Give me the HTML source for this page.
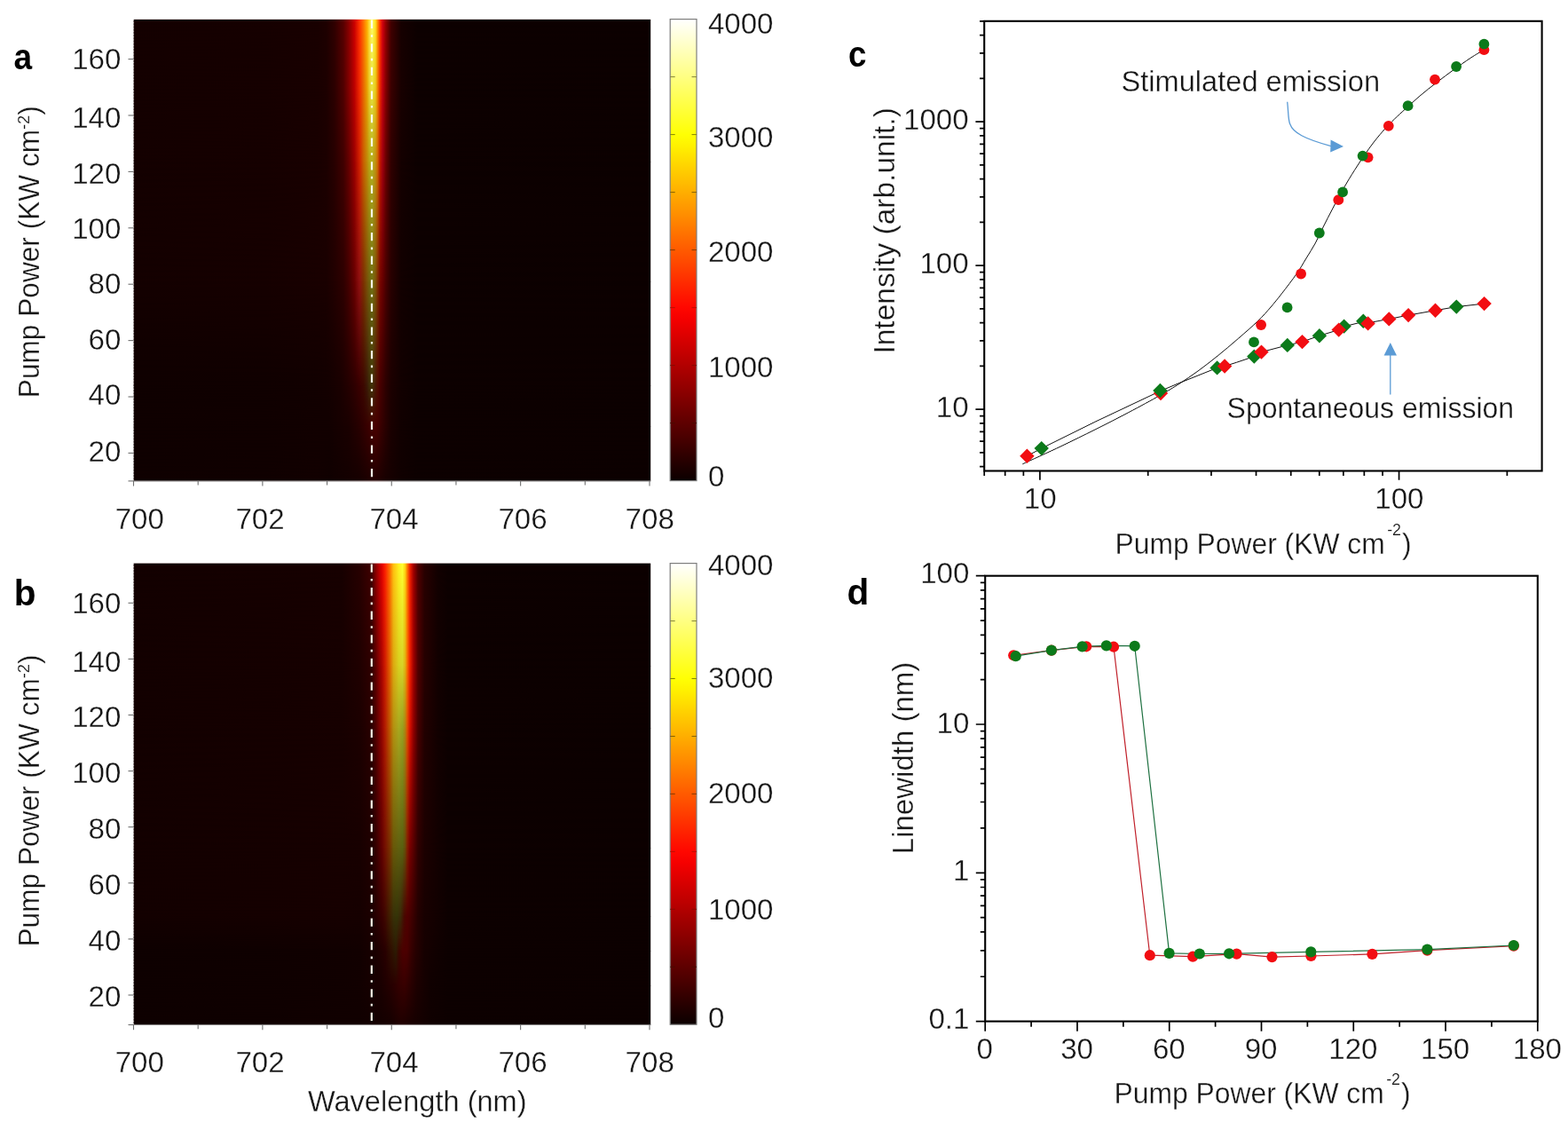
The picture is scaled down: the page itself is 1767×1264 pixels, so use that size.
<!DOCTYPE html>
<html lang="en"><head><meta charset="utf-8"><title>Figure</title>
<style>html,body{margin:0;padding:0;background:#fff}body{width:1767px;height:1264px}svg{display:block}text{font-family:"Liberation Sans",sans-serif;stroke:#fff;stroke-width:0.3px;stroke-linejoin:round}text.b{stroke:none}</style>
</head><body>
<svg width="1767" height="1264" viewBox="0 0 1767 1264">
<defs>
<linearGradient id="vg" x1="0" y1="0" x2="0" y2="1"><stop offset="0" stop-color="#000"/><stop offset="1" stop-color="#fff"/></linearGradient>
<mask id="vm" maskContentUnits="objectBoundingBox" x="0" y="0" width="1" height="1"><rect x="0" y="0" width="1" height="1" fill="url(#vg)"/></mask>
<linearGradient id="ha0" gradientUnits="userSpaceOnUse" x1="150.5" y1="0" x2="733.2" y2="0"><stop offset="0.0000" stop-color="#140000"/><stop offset="0.2566" stop-color="#160000"/><stop offset="0.3561" stop-color="#190000"/><stop offset="0.3733" stop-color="#1e0000"/><stop offset="0.3887" stop-color="#300000"/><stop offset="0.4059" stop-color="#580000"/><stop offset="0.4162" stop-color="#880000"/><stop offset="0.4271" stop-color="#cc0000"/><stop offset="0.4368" stop-color="#ff3000"/><stop offset="0.4447" stop-color="#ff7000"/><stop offset="0.4515" stop-color="#ffb000"/><stop offset="0.4563" stop-color="#ffe040"/><stop offset="0.4613" stop-color="#ffff66"/><stop offset="0.4680" stop-color="#ffe020"/><stop offset="0.4719" stop-color="#ff9000"/><stop offset="0.4767" stop-color="#ff3000"/><stop offset="0.4816" stop-color="#d00010"/><stop offset="0.4882" stop-color="#900000"/><stop offset="0.4980" stop-color="#400000"/><stop offset="0.5174" stop-color="#160000"/><stop offset="0.5483" stop-color="#0d0000"/><stop offset="1.0000" stop-color="#0c0000"/></linearGradient>
<linearGradient id="ha1" gradientUnits="userSpaceOnUse" x1="150.5" y1="0" x2="733.2" y2="0"><stop offset="0.0000" stop-color="#140000"/><stop offset="0.2566" stop-color="#160000"/><stop offset="0.3561" stop-color="#190000"/><stop offset="0.3733" stop-color="#1d0000"/><stop offset="0.3887" stop-color="#2c0000"/><stop offset="0.4059" stop-color="#500000"/><stop offset="0.4162" stop-color="#800000"/><stop offset="0.4271" stop-color="#bc0000"/><stop offset="0.4368" stop-color="#f02800"/><stop offset="0.4447" stop-color="#e86800"/><stop offset="0.4515" stop-color="#e8a000"/><stop offset="0.4563" stop-color="#e8d030"/><stop offset="0.4613" stop-color="#e8e440"/><stop offset="0.4680" stop-color="#e8c818"/><stop offset="0.4719" stop-color="#f08000"/><stop offset="0.4767" stop-color="#e82800"/><stop offset="0.4816" stop-color="#c00010"/><stop offset="0.4882" stop-color="#800000"/><stop offset="0.4980" stop-color="#3a0000"/><stop offset="0.5174" stop-color="#180000"/><stop offset="0.5483" stop-color="#0d0000"/><stop offset="1.0000" stop-color="#0c0000"/></linearGradient>
<linearGradient id="ha2" gradientUnits="userSpaceOnUse" x1="150.5" y1="0" x2="733.2" y2="0"><stop offset="0.0000" stop-color="#140000"/><stop offset="0.2566" stop-color="#160000"/><stop offset="0.3561" stop-color="#190000"/><stop offset="0.3733" stop-color="#1c0000"/><stop offset="0.3887" stop-color="#280000"/><stop offset="0.4059" stop-color="#400000"/><stop offset="0.4162" stop-color="#640000"/><stop offset="0.4271" stop-color="#9c0000"/><stop offset="0.4368" stop-color="#d02000"/><stop offset="0.4447" stop-color="#c86000"/><stop offset="0.4515" stop-color="#c08808"/><stop offset="0.4563" stop-color="#b8a818"/><stop offset="0.4613" stop-color="#b4b020"/><stop offset="0.4680" stop-color="#c09010"/><stop offset="0.4719" stop-color="#d06800"/><stop offset="0.4767" stop-color="#c01800"/><stop offset="0.4816" stop-color="#a00010"/><stop offset="0.4882" stop-color="#680000"/><stop offset="0.4980" stop-color="#300000"/><stop offset="0.5174" stop-color="#140000"/><stop offset="0.5483" stop-color="#0d0000"/><stop offset="1.0000" stop-color="#0c0000"/></linearGradient>
<linearGradient id="ha3" gradientUnits="userSpaceOnUse" x1="150.5" y1="0" x2="733.2" y2="0"><stop offset="0.0000" stop-color="#140000"/><stop offset="0.2566" stop-color="#160000"/><stop offset="0.3561" stop-color="#190000"/><stop offset="0.3733" stop-color="#1a0000"/><stop offset="0.3887" stop-color="#220000"/><stop offset="0.4059" stop-color="#2e0000"/><stop offset="0.4162" stop-color="#440000"/><stop offset="0.4271" stop-color="#680000"/><stop offset="0.4368" stop-color="#901010"/><stop offset="0.4447" stop-color="#7c3000"/><stop offset="0.4515" stop-color="#785008"/><stop offset="0.4563" stop-color="#706410"/><stop offset="0.4613" stop-color="#727212"/><stop offset="0.4680" stop-color="#7c5408"/><stop offset="0.4719" stop-color="#803000"/><stop offset="0.4767" stop-color="#780800"/><stop offset="0.4816" stop-color="#680000"/><stop offset="0.4882" stop-color="#480000"/><stop offset="0.4980" stop-color="#280000"/><stop offset="0.5174" stop-color="#120000"/><stop offset="0.5483" stop-color="#0d0000"/><stop offset="1.0000" stop-color="#0c0000"/></linearGradient>
<linearGradient id="ha4" gradientUnits="userSpaceOnUse" x1="150.5" y1="0" x2="733.2" y2="0"><stop offset="0.0000" stop-color="#0f0000"/><stop offset="0.2566" stop-color="#100000"/><stop offset="0.3561" stop-color="#120000"/><stop offset="0.3784" stop-color="#140000"/><stop offset="0.4007" stop-color="#1a0000"/><stop offset="0.4155" stop-color="#240000"/><stop offset="0.4271" stop-color="#2e0000"/><stop offset="0.4368" stop-color="#3a0000"/><stop offset="0.4447" stop-color="#3c0800"/><stop offset="0.4515" stop-color="#3a1806"/><stop offset="0.4563" stop-color="#3e2c08"/><stop offset="0.4613" stop-color="#423408"/><stop offset="0.4680" stop-color="#481806"/><stop offset="0.4719" stop-color="#500c00"/><stop offset="0.4767" stop-color="#480000"/><stop offset="0.4816" stop-color="#3c0000"/><stop offset="0.4882" stop-color="#2c0000"/><stop offset="0.4980" stop-color="#1c0000"/><stop offset="0.5174" stop-color="#120000"/><stop offset="0.5483" stop-color="#0d0000"/><stop offset="1.0000" stop-color="#0c0000"/></linearGradient>
<linearGradient id="ha5" gradientUnits="userSpaceOnUse" x1="150.5" y1="0" x2="733.2" y2="0"><stop offset="0.0000" stop-color="#0f0000"/><stop offset="0.2566" stop-color="#100000"/><stop offset="0.3561" stop-color="#120000"/><stop offset="0.3784" stop-color="#120000"/><stop offset="0.4155" stop-color="#1a0000"/><stop offset="0.4368" stop-color="#280000"/><stop offset="0.4515" stop-color="#380000"/><stop offset="0.4613" stop-color="#440000"/><stop offset="0.4694" stop-color="#480000"/><stop offset="0.4767" stop-color="#3c0000"/><stop offset="0.4882" stop-color="#280000"/><stop offset="0.4980" stop-color="#1a0000"/><stop offset="0.5174" stop-color="#110000"/><stop offset="0.5483" stop-color="#0d0000"/><stop offset="1.0000" stop-color="#0c0000"/></linearGradient>
<linearGradient id="ha6" gradientUnits="userSpaceOnUse" x1="150.5" y1="0" x2="733.2" y2="0"><stop offset="0.0000" stop-color="#0f0000"/><stop offset="0.2566" stop-color="#100000"/><stop offset="0.3561" stop-color="#120000"/><stop offset="0.3784" stop-color="#100000"/><stop offset="0.4368" stop-color="#160000"/><stop offset="0.4613" stop-color="#200000"/><stop offset="0.4694" stop-color="#220000"/><stop offset="0.4882" stop-color="#180000"/><stop offset="0.5174" stop-color="#100000"/><stop offset="0.5483" stop-color="#0d0000"/><stop offset="1.0000" stop-color="#0c0000"/></linearGradient>
<linearGradient id="hb0" gradientUnits="userSpaceOnUse" x1="150.5" y1="0" x2="733.2" y2="0"><stop offset="0.0000" stop-color="#130000"/><stop offset="0.2566" stop-color="#150000"/><stop offset="0.4024" stop-color="#170000"/><stop offset="0.4385" stop-color="#280000"/><stop offset="0.4604" stop-color="#400000"/><stop offset="0.4690" stop-color="#900000"/><stop offset="0.4797" stop-color="#e00000"/><stop offset="0.4865" stop-color="#ff2000"/><stop offset="0.4955" stop-color="#ff7000"/><stop offset="0.5025" stop-color="#ffc010"/><stop offset="0.5131" stop-color="#fff020"/><stop offset="0.5202" stop-color="#ffff30"/><stop offset="0.5255" stop-color="#ffd010"/><stop offset="0.5291" stop-color="#ff8000"/><stop offset="0.5344" stop-color="#f02000"/><stop offset="0.5414" stop-color="#a00000"/><stop offset="0.5500" stop-color="#500000"/><stop offset="0.5626" stop-color="#280000"/><stop offset="0.5890" stop-color="#120000"/><stop offset="0.6084" stop-color="#0d0000"/><stop offset="1.0000" stop-color="#0c0000"/></linearGradient>
<linearGradient id="hb1" gradientUnits="userSpaceOnUse" x1="150.5" y1="0" x2="733.2" y2="0"><stop offset="0.0000" stop-color="#130000"/><stop offset="0.2566" stop-color="#150000"/><stop offset="0.4024" stop-color="#170000"/><stop offset="0.4385" stop-color="#200000"/><stop offset="0.4604" stop-color="#300000"/><stop offset="0.4690" stop-color="#600000"/><stop offset="0.4797" stop-color="#a80400"/><stop offset="0.4865" stop-color="#d01c00"/><stop offset="0.4955" stop-color="#e06000"/><stop offset="0.5025" stop-color="#dca810"/><stop offset="0.5131" stop-color="#d8d020"/><stop offset="0.5202" stop-color="#d8d428"/><stop offset="0.5255" stop-color="#e0b010"/><stop offset="0.5291" stop-color="#f87000"/><stop offset="0.5344" stop-color="#f02000"/><stop offset="0.5414" stop-color="#a00000"/><stop offset="0.5500" stop-color="#500000"/><stop offset="0.5626" stop-color="#260000"/><stop offset="0.5890" stop-color="#120000"/><stop offset="0.6084" stop-color="#0d0000"/><stop offset="1.0000" stop-color="#0c0000"/></linearGradient>
<linearGradient id="hb2" gradientUnits="userSpaceOnUse" x1="150.5" y1="0" x2="733.2" y2="0"><stop offset="0.0000" stop-color="#130000"/><stop offset="0.2566" stop-color="#150000"/><stop offset="0.4024" stop-color="#170000"/><stop offset="0.4385" stop-color="#1c0000"/><stop offset="0.4604" stop-color="#2a0000"/><stop offset="0.4690" stop-color="#520000"/><stop offset="0.4797" stop-color="#920400"/><stop offset="0.4865" stop-color="#b41c00"/><stop offset="0.4955" stop-color="#bc5800"/><stop offset="0.5025" stop-color="#b49010"/><stop offset="0.5131" stop-color="#a8a820"/><stop offset="0.5202" stop-color="#98a020"/><stop offset="0.5255" stop-color="#b08010"/><stop offset="0.5291" stop-color="#e05000"/><stop offset="0.5344" stop-color="#d81000"/><stop offset="0.5414" stop-color="#900000"/><stop offset="0.5500" stop-color="#480000"/><stop offset="0.5626" stop-color="#220000"/><stop offset="0.5890" stop-color="#120000"/><stop offset="0.6084" stop-color="#0d0000"/><stop offset="1.0000" stop-color="#0c0000"/></linearGradient>
<linearGradient id="hb3" gradientUnits="userSpaceOnUse" x1="150.5" y1="0" x2="733.2" y2="0"><stop offset="0.0000" stop-color="#130000"/><stop offset="0.2566" stop-color="#150000"/><stop offset="0.4024" stop-color="#170000"/><stop offset="0.4385" stop-color="#180000"/><stop offset="0.4604" stop-color="#200000"/><stop offset="0.4690" stop-color="#360000"/><stop offset="0.4797" stop-color="#600000"/><stop offset="0.4865" stop-color="#741000"/><stop offset="0.4955" stop-color="#783000"/><stop offset="0.5025" stop-color="#685808"/><stop offset="0.5131" stop-color="#606010"/><stop offset="0.5202" stop-color="#586010"/><stop offset="0.5255" stop-color="#684808"/><stop offset="0.5291" stop-color="#802000"/><stop offset="0.5344" stop-color="#780000"/><stop offset="0.5414" stop-color="#580000"/><stop offset="0.5500" stop-color="#300000"/><stop offset="0.5626" stop-color="#1c0000"/><stop offset="0.5890" stop-color="#120000"/><stop offset="0.6084" stop-color="#0d0000"/><stop offset="1.0000" stop-color="#0c0000"/></linearGradient>
<linearGradient id="hb4" gradientUnits="userSpaceOnUse" x1="150.5" y1="0" x2="733.2" y2="0"><stop offset="0.0000" stop-color="#130000"/><stop offset="0.2566" stop-color="#150000"/><stop offset="0.4024" stop-color="#170000"/><stop offset="0.4385" stop-color="#160000"/><stop offset="0.4604" stop-color="#1c0000"/><stop offset="0.4690" stop-color="#280000"/><stop offset="0.4797" stop-color="#380000"/><stop offset="0.4865" stop-color="#400800"/><stop offset="0.4955" stop-color="#402000"/><stop offset="0.5025" stop-color="#383008"/><stop offset="0.5097" stop-color="#343408"/><stop offset="0.5167" stop-color="#3a2808"/><stop offset="0.5238" stop-color="#480800"/><stop offset="0.5291" stop-color="#500000"/><stop offset="0.5344" stop-color="#480000"/><stop offset="0.5414" stop-color="#380000"/><stop offset="0.5500" stop-color="#240000"/><stop offset="0.5626" stop-color="#180000"/><stop offset="0.5890" stop-color="#120000"/><stop offset="0.6084" stop-color="#0d0000"/><stop offset="1.0000" stop-color="#0c0000"/></linearGradient>
<linearGradient id="hb5" gradientUnits="userSpaceOnUse" x1="150.5" y1="0" x2="733.2" y2="0"><stop offset="0.0000" stop-color="#0e0000"/><stop offset="0.2566" stop-color="#0f0000"/><stop offset="0.4024" stop-color="#110000"/><stop offset="0.4385" stop-color="#120000"/><stop offset="0.4690" stop-color="#1a0000"/><stop offset="0.4865" stop-color="#280000"/><stop offset="0.4985" stop-color="#301000"/><stop offset="0.5071" stop-color="#2c1c04"/><stop offset="0.5131" stop-color="#3c0800"/><stop offset="0.5209" stop-color="#4c0000"/><stop offset="0.5291" stop-color="#4a0000"/><stop offset="0.5363" stop-color="#380000"/><stop offset="0.5449" stop-color="#280000"/><stop offset="0.5626" stop-color="#160000"/><stop offset="0.5890" stop-color="#100000"/><stop offset="0.6084" stop-color="#0d0000"/><stop offset="1.0000" stop-color="#0c0000"/></linearGradient>
<linearGradient id="hb6" gradientUnits="userSpaceOnUse" x1="150.5" y1="0" x2="733.2" y2="0"><stop offset="0.0000" stop-color="#0e0000"/><stop offset="0.2566" stop-color="#0f0000"/><stop offset="0.4024" stop-color="#110000"/><stop offset="0.4385" stop-color="#120000"/><stop offset="0.4797" stop-color="#1a0000"/><stop offset="0.5003" stop-color="#280000"/><stop offset="0.5140" stop-color="#340000"/><stop offset="0.5243" stop-color="#380000"/><stop offset="0.5346" stop-color="#2c0000"/><stop offset="0.5483" stop-color="#1c0000"/><stop offset="0.5741" stop-color="#100000"/><stop offset="0.6084" stop-color="#0d0000"/><stop offset="1.0000" stop-color="#0c0000"/></linearGradient>
<linearGradient id="hb7" gradientUnits="userSpaceOnUse" x1="150.5" y1="0" x2="733.2" y2="0"><stop offset="0.0000" stop-color="#0e0000"/><stop offset="0.2566" stop-color="#0f0000"/><stop offset="0.4024" stop-color="#110000"/><stop offset="0.4385" stop-color="#110000"/><stop offset="0.4968" stop-color="#160000"/><stop offset="0.5174" stop-color="#200000"/><stop offset="0.5397" stop-color="#180000"/><stop offset="0.5741" stop-color="#100000"/><stop offset="0.6084" stop-color="#0d0000"/><stop offset="1.0000" stop-color="#0c0000"/></linearGradient>
<linearGradient id="cb" x1="0" y1="1" x2="0" y2="0"><stop offset="0.0000" stop-color="#0b0000"/><stop offset="0.0250" stop-color="#1b0000"/><stop offset="0.0500" stop-color="#2c0000"/><stop offset="0.0750" stop-color="#3d0000"/><stop offset="0.1000" stop-color="#4e0000"/><stop offset="0.1250" stop-color="#5e0000"/><stop offset="0.1500" stop-color="#6f0000"/><stop offset="0.1750" stop-color="#800000"/><stop offset="0.2000" stop-color="#910000"/><stop offset="0.2250" stop-color="#a10000"/><stop offset="0.2500" stop-color="#b20000"/><stop offset="0.2750" stop-color="#c30000"/><stop offset="0.3000" stop-color="#d30000"/><stop offset="0.3250" stop-color="#e40000"/><stop offset="0.3500" stop-color="#f50000"/><stop offset="0.3750" stop-color="#ff0700"/><stop offset="0.4000" stop-color="#ff1700"/><stop offset="0.4250" stop-color="#ff2800"/><stop offset="0.4500" stop-color="#ff3900"/><stop offset="0.4750" stop-color="#ff4a00"/><stop offset="0.5000" stop-color="#ff5a00"/><stop offset="0.5250" stop-color="#ff6b00"/><stop offset="0.5500" stop-color="#ff7c00"/><stop offset="0.5750" stop-color="#ff8d00"/><stop offset="0.6000" stop-color="#ff9d00"/><stop offset="0.6250" stop-color="#ffae00"/><stop offset="0.6500" stop-color="#ffbf00"/><stop offset="0.6750" stop-color="#ffcf00"/><stop offset="0.7000" stop-color="#ffe000"/><stop offset="0.7250" stop-color="#fff100"/><stop offset="0.7500" stop-color="#ffff04"/><stop offset="0.7750" stop-color="#ffff1d"/><stop offset="0.8000" stop-color="#ffff36"/><stop offset="0.8250" stop-color="#ffff4f"/><stop offset="0.8500" stop-color="#ffff68"/><stop offset="0.8750" stop-color="#ffff82"/><stop offset="0.9000" stop-color="#ffff9b"/><stop offset="0.9250" stop-color="#ffffb4"/><stop offset="0.9500" stop-color="#ffffcd"/><stop offset="0.9750" stop-color="#ffffe6"/><stop offset="1.0000" stop-color="#ffffff"/></linearGradient>
</defs>
<rect width="1767" height="1264" fill="#fff"/>
<g>
<rect x="150.5" y="21.9" width="582.7" height="78.7" fill="url(#ha0)"/>
<rect x="150.5" y="21.9" width="582.7" height="78.1" fill="url(#ha1)" mask="url(#vm)"/>
<rect x="150.5" y="100" width="582.7" height="82.6" fill="url(#ha1)"/>
<rect x="150.5" y="100" width="582.7" height="82" fill="url(#ha2)" mask="url(#vm)"/>
<rect x="150.5" y="182" width="582.7" height="135.6" fill="url(#ha2)"/>
<rect x="150.5" y="182" width="582.7" height="135" fill="url(#ha3)" mask="url(#vm)"/>
<rect x="150.5" y="317" width="582.7" height="117.6" fill="url(#ha3)"/>
<rect x="150.5" y="317" width="582.7" height="117" fill="url(#ha4)" mask="url(#vm)"/>
<rect x="150.5" y="434" width="582.7" height="46.6" fill="url(#ha4)"/>
<rect x="150.5" y="434" width="582.7" height="46" fill="url(#ha5)" mask="url(#vm)"/>
<rect x="150.5" y="480" width="582.7" height="62.2" fill="url(#ha5)"/>
<rect x="150.5" y="480" width="582.7" height="61.6" fill="url(#ha6)" mask="url(#vm)"/>
</g>
<g>
<rect x="150.5" y="634.6" width="582.7" height="116" fill="url(#hb0)"/>
<rect x="150.5" y="634.6" width="582.7" height="115.4" fill="url(#hb1)" mask="url(#vm)"/>
<rect x="150.5" y="750" width="582.7" height="70.6" fill="url(#hb1)"/>
<rect x="150.5" y="750" width="582.7" height="70" fill="url(#hb2)" mask="url(#vm)"/>
<rect x="150.5" y="820" width="582.7" height="135.6" fill="url(#hb2)"/>
<rect x="150.5" y="820" width="582.7" height="135" fill="url(#hb3)" mask="url(#vm)"/>
<rect x="150.5" y="955" width="582.7" height="77.6" fill="url(#hb3)"/>
<rect x="150.5" y="955" width="582.7" height="77" fill="url(#hb4)" mask="url(#vm)"/>
<rect x="150.5" y="1032" width="582.7" height="39.6" fill="url(#hb4)"/>
<rect x="150.5" y="1032" width="582.7" height="39" fill="url(#hb5)" mask="url(#vm)"/>
<rect x="150.5" y="1071" width="582.7" height="39.6" fill="url(#hb5)"/>
<rect x="150.5" y="1071" width="582.7" height="39" fill="url(#hb6)" mask="url(#vm)"/>
<rect x="150.5" y="1110" width="582.7" height="44.8" fill="url(#hb6)"/>
<rect x="150.5" y="1110" width="582.7" height="44.2" fill="url(#hb7)" mask="url(#vm)"/>
</g>
<line x1="150.6" y1="21.9" x2="150.6" y2="541.6" stroke="#fff" stroke-opacity="0.55" stroke-width="1" stroke-dasharray="1.2 2"/>
<line x1="150.6" y1="634.6" x2="150.6" y2="1154.2" stroke="#fff" stroke-opacity="0.55" stroke-width="1" stroke-dasharray="1.2 2"/>
<line x1="419" y1="22.6" x2="419" y2="541" stroke="#fffef2" stroke-opacity="0.95" stroke-width="2.2" stroke-dasharray="9.3 7.3 2.6 7.4"/>
<line x1="418.8" y1="635.4" x2="418.8" y2="1153.6" stroke="#fffdf0" stroke-opacity="0.95" stroke-width="2.2" stroke-dasharray="9.3 7.3 2.6 7.4"/>
<line x1="150" y1="541.8" x2="733.7" y2="541.8" stroke="#9a9a9a" stroke-width="0.8"/>
<line x1="150.5" y1="541.6" x2="150.5" y2="547.6" stroke="#707070" stroke-width="1.1"/>
<line x1="223.188" y1="541.6" x2="223.188" y2="546.6" stroke="#707070" stroke-width="1.1"/>
<line x1="295.875" y1="541.6" x2="295.875" y2="547.6" stroke="#707070" stroke-width="1.1"/>
<line x1="368.562" y1="541.6" x2="368.562" y2="546.6" stroke="#707070" stroke-width="1.1"/>
<line x1="441.25" y1="541.6" x2="441.25" y2="547.6" stroke="#707070" stroke-width="1.1"/>
<line x1="513.938" y1="541.6" x2="513.938" y2="546.6" stroke="#707070" stroke-width="1.1"/>
<line x1="586.625" y1="541.6" x2="586.625" y2="547.6" stroke="#707070" stroke-width="1.1"/>
<line x1="659.312" y1="541.6" x2="659.312" y2="546.6" stroke="#707070" stroke-width="1.1"/>
<line x1="732" y1="541.6" x2="732" y2="547.6" stroke="#707070" stroke-width="1.1"/>
<line x1="144.5" y1="510.4" x2="150.5" y2="510.4" stroke="#707070" stroke-width="1.1"/>
<text x="136.4" y="519.5" font-size="33.6" text-anchor="end" fill="#161616" textLength="36.8" lengthAdjust="spacingAndGlyphs">20</text>
<line x1="144.5" y1="447" x2="150.5" y2="447" stroke="#707070" stroke-width="1.1"/>
<text x="136.4" y="456.3" font-size="33.6" text-anchor="end" fill="#161616" textLength="36.8" lengthAdjust="spacingAndGlyphs">40</text>
<line x1="144.5" y1="383.6" x2="150.5" y2="383.6" stroke="#707070" stroke-width="1.1"/>
<text x="136.4" y="394.3" font-size="33.6" text-anchor="end" fill="#161616" textLength="36.8" lengthAdjust="spacingAndGlyphs">60</text>
<line x1="144.5" y1="320.2" x2="150.5" y2="320.2" stroke="#707070" stroke-width="1.1"/>
<text x="136.4" y="330.6" font-size="33.6" text-anchor="end" fill="#161616" textLength="36.8" lengthAdjust="spacingAndGlyphs">80</text>
<line x1="144.5" y1="256.8" x2="150.5" y2="256.8" stroke="#707070" stroke-width="1.1"/>
<text x="136.4" y="268.9" font-size="33.6" text-anchor="end" fill="#161616" textLength="55.2" lengthAdjust="spacingAndGlyphs">100</text>
<line x1="144.5" y1="193.4" x2="150.5" y2="193.4" stroke="#707070" stroke-width="1.1"/>
<text x="136.4" y="207.3" font-size="33.6" text-anchor="end" fill="#161616" textLength="55.2" lengthAdjust="spacingAndGlyphs">120</text>
<line x1="144.5" y1="130" x2="150.5" y2="130" stroke="#707070" stroke-width="1.1"/>
<text x="136.4" y="143.5" font-size="33.6" text-anchor="end" fill="#161616" textLength="55.2" lengthAdjust="spacingAndGlyphs">140</text>
<line x1="144.5" y1="66.6" x2="150.5" y2="66.6" stroke="#707070" stroke-width="1.1"/>
<text x="136.4" y="78.2" font-size="33.6" text-anchor="end" fill="#161616" textLength="55.2" lengthAdjust="spacingAndGlyphs">160</text>
<line x1="144.5" y1="541.9" x2="150.5" y2="541.9" stroke="#707070" stroke-width="1.1"/>
<text x="157.3" y="596" font-size="33.6" text-anchor="middle" fill="#161616" textLength="55.2" lengthAdjust="spacingAndGlyphs">700</text>
<text x="293" y="596" font-size="33.6" text-anchor="middle" fill="#161616" textLength="55.2" lengthAdjust="spacingAndGlyphs">702</text>
<text x="444" y="596" font-size="33.6" text-anchor="middle" fill="#161616" textLength="55.2" lengthAdjust="spacingAndGlyphs">704</text>
<text x="589" y="596" font-size="33.6" text-anchor="middle" fill="#161616" textLength="55.2" lengthAdjust="spacingAndGlyphs">706</text>
<text x="732.2" y="596" font-size="33.6" text-anchor="middle" fill="#161616" textLength="55.2" lengthAdjust="spacingAndGlyphs">708</text>
<line x1="150" y1="1154.4" x2="733.7" y2="1154.4" stroke="#9a9a9a" stroke-width="0.8"/>
<line x1="150.5" y1="1154.2" x2="150.5" y2="1160.2" stroke="#707070" stroke-width="1.1"/>
<line x1="223.188" y1="1154.2" x2="223.188" y2="1159.2" stroke="#707070" stroke-width="1.1"/>
<line x1="295.875" y1="1154.2" x2="295.875" y2="1160.2" stroke="#707070" stroke-width="1.1"/>
<line x1="368.562" y1="1154.2" x2="368.562" y2="1159.2" stroke="#707070" stroke-width="1.1"/>
<line x1="441.25" y1="1154.2" x2="441.25" y2="1160.2" stroke="#707070" stroke-width="1.1"/>
<line x1="513.938" y1="1154.2" x2="513.938" y2="1159.2" stroke="#707070" stroke-width="1.1"/>
<line x1="586.625" y1="1154.2" x2="586.625" y2="1160.2" stroke="#707070" stroke-width="1.1"/>
<line x1="659.312" y1="1154.2" x2="659.312" y2="1159.2" stroke="#707070" stroke-width="1.1"/>
<line x1="732" y1="1154.2" x2="732" y2="1160.2" stroke="#707070" stroke-width="1.1"/>
<line x1="144.5" y1="1121" x2="150.5" y2="1121" stroke="#707070" stroke-width="1.1"/>
<text x="136.4" y="1134.3" font-size="33.6" text-anchor="end" fill="#161616" textLength="36.8" lengthAdjust="spacingAndGlyphs">20</text>
<line x1="144.5" y1="1057.9" x2="150.5" y2="1057.9" stroke="#707070" stroke-width="1.1"/>
<text x="136.4" y="1070.8" font-size="33.6" text-anchor="end" fill="#161616" textLength="36.8" lengthAdjust="spacingAndGlyphs">40</text>
<line x1="144.5" y1="994.8" x2="150.5" y2="994.8" stroke="#707070" stroke-width="1.1"/>
<text x="136.4" y="1007.7" font-size="33.6" text-anchor="end" fill="#161616" textLength="36.8" lengthAdjust="spacingAndGlyphs">60</text>
<line x1="144.5" y1="931.7" x2="150.5" y2="931.7" stroke="#707070" stroke-width="1.1"/>
<text x="136.4" y="944.6" font-size="33.6" text-anchor="end" fill="#161616" textLength="36.8" lengthAdjust="spacingAndGlyphs">80</text>
<line x1="144.5" y1="868.6" x2="150.5" y2="868.6" stroke="#707070" stroke-width="1.1"/>
<text x="136.4" y="881.5" font-size="33.6" text-anchor="end" fill="#161616" textLength="55.2" lengthAdjust="spacingAndGlyphs">100</text>
<line x1="144.5" y1="805.5" x2="150.5" y2="805.5" stroke="#707070" stroke-width="1.1"/>
<text x="136.4" y="819.4" font-size="33.6" text-anchor="end" fill="#161616" textLength="55.2" lengthAdjust="spacingAndGlyphs">120</text>
<line x1="144.5" y1="742.4" x2="150.5" y2="742.4" stroke="#707070" stroke-width="1.1"/>
<text x="136.4" y="757.3" font-size="33.6" text-anchor="end" fill="#161616" textLength="55.2" lengthAdjust="spacingAndGlyphs">140</text>
<line x1="144.5" y1="679.3" x2="150.5" y2="679.3" stroke="#707070" stroke-width="1.1"/>
<text x="136.4" y="691.2" font-size="33.6" text-anchor="end" fill="#161616" textLength="55.2" lengthAdjust="spacingAndGlyphs">160</text>
<line x1="144.5" y1="1154.5" x2="150.5" y2="1154.5" stroke="#707070" stroke-width="1.1"/>
<text x="157.3" y="1207.7" font-size="33.6" text-anchor="middle" fill="#161616" textLength="55.2" lengthAdjust="spacingAndGlyphs">700</text>
<text x="293" y="1207.7" font-size="33.6" text-anchor="middle" fill="#161616" textLength="55.2" lengthAdjust="spacingAndGlyphs">702</text>
<text x="444" y="1207.7" font-size="33.6" text-anchor="middle" fill="#161616" textLength="55.2" lengthAdjust="spacingAndGlyphs">704</text>
<text x="589" y="1207.7" font-size="33.6" text-anchor="middle" fill="#161616" textLength="55.2" lengthAdjust="spacingAndGlyphs">706</text>
<text x="732.2" y="1207.7" font-size="33.6" text-anchor="middle" fill="#161616" textLength="55.2" lengthAdjust="spacingAndGlyphs">708</text>
<rect x="755.2" y="21.6" width="29.8" height="520" fill="url(#cb)" stroke="#7d7d7d" stroke-width="1.2"/>
<line x1="755.2" y1="476.6" x2="760.7" y2="476.6" stroke="#4b0a00" stroke-width="1"/>
<line x1="779.5" y1="476.6" x2="785" y2="476.6" stroke="#4b0a00" stroke-width="1"/>
<line x1="755.2" y1="411.6" x2="760.7" y2="411.6" stroke="#860a00" stroke-width="1"/>
<line x1="779.5" y1="411.6" x2="785" y2="411.6" stroke="#860a00" stroke-width="1"/>
<line x1="755.2" y1="346.6" x2="760.7" y2="346.6" stroke="#bc0e00" stroke-width="1"/>
<line x1="779.5" y1="346.6" x2="785" y2="346.6" stroke="#bc0e00" stroke-width="1"/>
<line x1="755.2" y1="281.6" x2="760.7" y2="281.6" stroke="#843a00" stroke-width="1"/>
<line x1="779.5" y1="281.6" x2="785" y2="281.6" stroke="#843a00" stroke-width="1"/>
<line x1="755.2" y1="216.6" x2="760.7" y2="216.6" stroke="#846000" stroke-width="1"/>
<line x1="779.5" y1="216.6" x2="785" y2="216.6" stroke="#846000" stroke-width="1"/>
<line x1="755.2" y1="151.6" x2="760.7" y2="151.6" stroke="#848402" stroke-width="1"/>
<line x1="779.5" y1="151.6" x2="785" y2="151.6" stroke="#848402" stroke-width="1"/>
<line x1="755.2" y1="86.6" x2="760.7" y2="86.6" stroke="#84843a" stroke-width="1"/>
<line x1="779.5" y1="86.6" x2="785" y2="86.6" stroke="#84843a" stroke-width="1"/>
<text x="797.9" y="38" font-size="33.6" text-anchor="start" fill="#161616" textLength="73.6" lengthAdjust="spacingAndGlyphs">4000</text>
<text x="797.9" y="165.8" font-size="33.6" text-anchor="start" fill="#161616" textLength="73.6" lengthAdjust="spacingAndGlyphs">3000</text>
<text x="797.9" y="295.2" font-size="33.6" text-anchor="start" fill="#161616" textLength="73.6" lengthAdjust="spacingAndGlyphs">2000</text>
<text x="797.9" y="425.4" font-size="33.6" text-anchor="start" fill="#161616" textLength="73.6" lengthAdjust="spacingAndGlyphs">1000</text>
<text x="797.9" y="548" font-size="33.6" text-anchor="start" fill="#161616" textLength="18.4" lengthAdjust="spacingAndGlyphs">0</text>
<rect x="755.2" y="634.6" width="29.8" height="519.6" fill="url(#cb)" stroke="#7d7d7d" stroke-width="1.2"/>
<line x1="755.2" y1="1089.25" x2="760.7" y2="1089.25" stroke="#4b0a00" stroke-width="1"/>
<line x1="779.5" y1="1089.25" x2="785" y2="1089.25" stroke="#4b0a00" stroke-width="1"/>
<line x1="755.2" y1="1024.3" x2="760.7" y2="1024.3" stroke="#860a00" stroke-width="1"/>
<line x1="779.5" y1="1024.3" x2="785" y2="1024.3" stroke="#860a00" stroke-width="1"/>
<line x1="755.2" y1="959.35" x2="760.7" y2="959.35" stroke="#bc0e00" stroke-width="1"/>
<line x1="779.5" y1="959.35" x2="785" y2="959.35" stroke="#bc0e00" stroke-width="1"/>
<line x1="755.2" y1="894.4" x2="760.7" y2="894.4" stroke="#843a00" stroke-width="1"/>
<line x1="779.5" y1="894.4" x2="785" y2="894.4" stroke="#843a00" stroke-width="1"/>
<line x1="755.2" y1="829.45" x2="760.7" y2="829.45" stroke="#846000" stroke-width="1"/>
<line x1="779.5" y1="829.45" x2="785" y2="829.45" stroke="#846000" stroke-width="1"/>
<line x1="755.2" y1="764.5" x2="760.7" y2="764.5" stroke="#848402" stroke-width="1"/>
<line x1="779.5" y1="764.5" x2="785" y2="764.5" stroke="#848402" stroke-width="1"/>
<line x1="755.2" y1="699.55" x2="760.7" y2="699.55" stroke="#84843a" stroke-width="1"/>
<line x1="779.5" y1="699.55" x2="785" y2="699.55" stroke="#84843a" stroke-width="1"/>
<text x="797.9" y="648.1" font-size="33.6" text-anchor="start" fill="#161616" textLength="73.6" lengthAdjust="spacingAndGlyphs">4000</text>
<text x="797.9" y="774.8" font-size="33.6" text-anchor="start" fill="#161616" textLength="73.6" lengthAdjust="spacingAndGlyphs">3000</text>
<text x="797.9" y="905.3" font-size="33.6" text-anchor="start" fill="#161616" textLength="73.6" lengthAdjust="spacingAndGlyphs">2000</text>
<text x="797.9" y="1036.4" font-size="33.6" text-anchor="start" fill="#161616" textLength="73.6" lengthAdjust="spacingAndGlyphs">1000</text>
<text x="797.9" y="1158.4" font-size="33.6" text-anchor="start" fill="#161616" textLength="18.4" lengthAdjust="spacingAndGlyphs">0</text>
<text x="15.4" y="77.6" font-size="40.5" text-anchor="start" font-weight="bold" class="b" fill="#000" textLength="20.6" lengthAdjust="spacingAndGlyphs">a</text>
<text x="15.8" y="682" font-size="40.5" text-anchor="start" font-weight="bold" class="b" fill="#000">b</text>
<text x="956" y="75" font-size="40.5" text-anchor="start" font-weight="bold" class="b" fill="#000" textLength="20.4" lengthAdjust="spacingAndGlyphs">c</text>
<text x="954.6" y="681" font-size="40.5" text-anchor="start" font-weight="bold" class="b" fill="#000">d</text>
<text transform="translate(44.4 448.2) rotate(-90)" font-size="33" fill="#161616" textLength="329" lengthAdjust="spacingAndGlyphs">Pump Power (KW cm<tspan dy="-11" font-size="19" stroke-width="0.15">-2</tspan><tspan dy="11">)</tspan></text>
<text transform="translate(44.4 1066.5) rotate(-90)" font-size="33" fill="#161616" textLength="329" lengthAdjust="spacingAndGlyphs">Pump Power (KW cm<tspan dy="-11" font-size="19" stroke-width="0.15">-2</tspan><tspan dy="11">)</tspan></text>
<text x="347" y="1251.8" font-size="33" fill="#161616" textLength="246.5" lengthAdjust="spacingAndGlyphs">Wavelength (nm)</text>
<text transform="translate(1008.2 398.6) rotate(-90)" font-size="33" fill="#161616" textLength="277.5" lengthAdjust="spacingAndGlyphs">Intensity (arb.unit.)</text>
<text transform="translate(1028.5 962.2) rotate(-90)" font-size="33" fill="#161616" textLength="216.5" lengthAdjust="spacingAndGlyphs">Linewidth (nm)</text>
<text x="1256.6" y="624" font-size="33" fill="#161616" textLength="334" lengthAdjust="spacingAndGlyphs">Pump Power (KW cm<tspan dx="2.5" dy="-21.5" font-size="18.5" stroke-width="0.15">-2</tspan><tspan dx="1" dy="21.5">)</tspan></text>
<text x="1255.6" y="1243" font-size="33" fill="#161616" textLength="334" lengthAdjust="spacingAndGlyphs">Pump Power (KW cm<tspan dx="2.5" dy="-21.5" font-size="18.5" stroke-width="0.15">-2</tspan><tspan dx="1" dy="21.5">)</tspan></text>
<text x="1263.6" y="102.8" font-size="33" fill="#161616" textLength="291.5" lengthAdjust="spacingAndGlyphs">Stimulated emission</text>
<text x="1382.6" y="471" font-size="33" fill="#161616" textLength="323.5" lengthAdjust="spacingAndGlyphs">Spontaneous emission</text>
<rect x="1109.2" y="23.8" width="628.4" height="506.7" fill="none" stroke="#000" stroke-width="2.1"/>
<path d="M1104.00 525.67h5.2M1104.00 509.97h5.2M1104.00 497.14h5.2M1104.00 486.29h5.2M1104.00 476.90h5.2M1104.00 468.61h5.2M1099.40 461.20h9.8M1104.00 412.43h5.2M1104.00 383.91h5.2M1104.00 363.67h5.2M1104.00 347.97h5.2M1104.00 335.14h5.2M1104.00 324.29h5.2M1104.00 314.90h5.2M1104.00 306.61h5.2M1099.40 299.20h9.8M1104.00 250.43h5.2M1104.00 221.91h5.2M1104.00 201.67h5.2M1104.00 185.97h5.2M1104.00 173.14h5.2M1104.00 162.29h5.2M1104.00 152.90h5.2M1104.00 144.61h5.2M1099.40 137.20h9.8M1104.00 88.43h5.2M1104.00 59.91h5.2M1104.00 39.67h5.2M1104.00 23.97h5.2M1109.20 530.50v5.4M1132.67 530.50v5.4M1153.37 530.50v5.4M1171.89 530.50v10.2M1293.71 530.50v5.4M1364.97 530.50v5.4M1415.53 530.50v5.4M1454.74 530.50v5.4M1486.79 530.50v5.4M1513.88 530.50v5.4M1537.35 530.50v5.4M1558.05 530.50v5.4M1576.56 530.50v10.2M1698.38 530.50v5.4" stroke="#000" stroke-width="1.7" fill="none"/>
<text x="1091.6" y="146.4" font-size="33.6" text-anchor="end" fill="#161616" textLength="73.6" lengthAdjust="spacingAndGlyphs">1000</text>
<text x="1091.6" y="308.4" font-size="33.6" text-anchor="end" fill="#161616" textLength="55.2" lengthAdjust="spacingAndGlyphs">100</text>
<text x="1091.6" y="470.4" font-size="33.6" text-anchor="end" fill="#161616" textLength="36.8" lengthAdjust="spacingAndGlyphs">10</text>
<text x="1172.19" y="573" font-size="33.6" text-anchor="middle" fill="#161616" textLength="36.8" lengthAdjust="spacingAndGlyphs">10</text>
<text x="1576.86" y="573" font-size="33.6" text-anchor="middle" fill="#161616" textLength="55.2" lengthAdjust="spacingAndGlyphs">100</text>
<path d="M1152.3 522.8C1159.6 519.4 1182.4 509.1 1196.0 502.6C1209.6 496.1 1221.3 490.3 1234.0 484.0C1246.7 477.7 1259.7 471.1 1271.9 464.6C1284.1 458.2 1297.9 450.7 1307.4 445.3C1316.9 439.9 1321.8 436.9 1328.9 432.4C1336.0 427.8 1342.8 423.2 1350.0 418.0C1357.2 412.8 1364.5 407.1 1372.1 401.0C1379.6 394.9 1387.7 388.1 1395.3 381.5C1402.9 374.9 1411.6 367.4 1417.7 361.5C1423.8 355.6 1427.6 351.1 1432.0 346.0C1436.4 340.9 1439.4 337.2 1444.3 330.9C1449.2 324.6 1456.8 314.8 1461.4 308.1C1466.0 301.5 1468.5 296.7 1472.0 291.0C1475.5 285.3 1479.0 279.9 1482.3 273.9C1485.5 267.9 1488.3 261.3 1491.5 255.0C1494.7 248.7 1498.2 241.8 1501.3 235.9C1504.4 230.0 1506.8 225.2 1510.0 219.5C1513.2 213.8 1516.3 208.2 1520.2 201.8C1524.1 195.4 1529.2 187.4 1533.5 180.9C1537.8 174.4 1541.9 168.5 1546.0 163.0C1550.1 157.5 1554.3 152.5 1558.1 148.1C1561.9 143.7 1565.2 140.3 1569.0 136.5C1572.8 132.7 1575.8 130.0 1580.9 125.3C1586.1 120.6 1593.6 113.6 1599.9 108.2C1606.2 102.8 1612.6 97.9 1618.9 93.0C1625.2 88.1 1631.6 83.4 1637.9 78.8C1644.2 74.2 1651.2 69.3 1656.9 65.5C1662.7 61.7 1669.8 57.6 1672.4 56.0" fill="none" stroke="#111" stroke-width="1"/>
<polyline points="1157.4,513.7 1173.7,505.1 1233.9,475.3 1307.4,440.6 1328.9,431.5 1371.6,414.4 1380.1,412.5 1393.4,408.3 1413.3,401.6 1421.5,396.6 1450.8,388.9 1467.5,385.1 1486.9,378.2 1508.7,371.6 1514.6,367.8 1536.3,362.5 1541.6,363.8 1565.3,359.4 1587.1,355.1 1617.5,349.7 1641.3,345.6 1672.6,342.1" fill="none" stroke="#111" stroke-width="1" stroke-linejoin="round"/>
<path d="M1149.2 513.7l8.2 -8.2l8.2 8.2l-8.2 8.2z" fill="#f20d12"/>
<path d="M1165.5 505.1l8.2 -8.2l8.2 8.2l-8.2 8.2z" fill="#0c7a1a"/>
<path d="M1299.8 443.0l8.2 -8.2l8.2 8.2l-8.2 8.2z" fill="#f20d12"/>
<path d="M1299.2 440.0l8.2 -8.2l8.2 8.2l-8.2 8.2z" fill="#0c7a1a"/>
<path d="M1363.4 414.4l8.2 -8.2l8.2 8.2l-8.2 8.2z" fill="#0c7a1a"/>
<path d="M1371.9 412.5l8.2 -8.2l8.2 8.2l-8.2 8.2z" fill="#f20d12"/>
<path d="M1405.1 401.6l8.2 -8.2l8.2 8.2l-8.2 8.2z" fill="#0c7a1a"/>
<path d="M1413.3 396.6l8.2 -8.2l8.2 8.2l-8.2 8.2z" fill="#f20d12"/>
<path d="M1442.6 388.9l8.2 -8.2l8.2 8.2l-8.2 8.2z" fill="#0c7a1a"/>
<path d="M1459.3 385.1l8.2 -8.2l8.2 8.2l-8.2 8.2z" fill="#f20d12"/>
<path d="M1478.7 378.2l8.2 -8.2l8.2 8.2l-8.2 8.2z" fill="#0c7a1a"/>
<path d="M1506.4 367.6l8.2 -8.2l8.2 8.2l-8.2 8.2z" fill="#0c7a1a"/>
<path d="M1500.5 371.6l8.2 -8.2l8.2 8.2l-8.2 8.2z" fill="#f20d12"/>
<path d="M1528.1 361.7l8.2 -8.2l8.2 8.2l-8.2 8.2z" fill="#0c7a1a"/>
<path d="M1533.4 364.4l8.2 -8.2l8.2 8.2l-8.2 8.2z" fill="#f20d12"/>
<path d="M1557.1 359.4l8.2 -8.2l8.2 8.2l-8.2 8.2z" fill="#f20d12"/>
<path d="M1578.9 355.1l8.2 -8.2l8.2 8.2l-8.2 8.2z" fill="#f20d12"/>
<path d="M1609.3 349.7l8.2 -8.2l8.2 8.2l-8.2 8.2z" fill="#f20d12"/>
<path d="M1633.1 345.6l8.2 -8.2l8.2 8.2l-8.2 8.2z" fill="#0c7a1a"/>
<path d="M1664.4 342.1l8.2 -8.2l8.2 8.2l-8.2 8.2z" fill="#f20d12"/>
<circle cx="1672.4" cy="56.2" r="5.9" fill="#f20d12"/>
<circle cx="1672.4" cy="49.7" r="5.9" fill="#0c7a1a"/>
<circle cx="1641.1" cy="75.0" r="5.9" fill="#0c7a1a"/>
<circle cx="1617.0" cy="89.6" r="5.9" fill="#f20d12"/>
<circle cx="1586.6" cy="119.2" r="5.9" fill="#0c7a1a"/>
<circle cx="1564.8" cy="141.8" r="5.9" fill="#f20d12"/>
<circle cx="1541.6" cy="177.3" r="5.9" fill="#f20d12"/>
<circle cx="1535.6" cy="175.6" r="5.9" fill="#0c7a1a"/>
<circle cx="1508.3" cy="225.2" r="5.9" fill="#f20d12"/>
<circle cx="1513.1" cy="216.4" r="5.9" fill="#0c7a1a"/>
<circle cx="1486.8" cy="262.5" r="5.9" fill="#0c7a1a"/>
<circle cx="1466.1" cy="308.5" r="5.9" fill="#f20d12"/>
<circle cx="1450.6" cy="346.4" r="5.9" fill="#0c7a1a"/>
<circle cx="1421.1" cy="366.0" r="5.9" fill="#f20d12"/>
<circle cx="1413.0" cy="385.4" r="5.9" fill="#0c7a1a"/>
<path d="M1450.7 114.8C1452 126 1451.5 134 1453.6 139.5C1457 149.5 1470 156.5 1500 164.6" fill="none" stroke="#5b9bd5" stroke-width="1.3"/>
<path d="M1499.6 157.4L1514 165L1499.2 171.6z" fill="#5b9bd5"/>
<path d="M1566.8 444.5V399" fill="none" stroke="#5b9bd5" stroke-width="1.3"/>
<path d="M1566.8 386L1574 400.6H1559.6z" fill="#5b9bd5"/>
<rect x="1110.2" y="648.7" width="622.6" height="501.9" fill="none" stroke="#000" stroke-width="2.1"/>
<path d="M1099.80 1150.60h10.4M1104.80 1100.24h5.4M1104.80 1070.78h5.4M1104.80 1049.88h5.4M1104.80 1033.66h5.4M1104.80 1020.42h5.4M1104.80 1009.22h5.4M1104.80 999.51h5.4M1104.80 990.96h5.4M1099.80 983.30h10.4M1104.80 932.94h5.4M1104.80 903.48h5.4M1104.80 882.58h5.4M1104.80 866.36h5.4M1104.80 853.12h5.4M1104.80 841.92h5.4M1104.80 832.21h5.4M1104.80 823.66h5.4M1099.80 816.00h10.4M1104.80 765.64h5.4M1104.80 736.18h5.4M1104.80 715.28h5.4M1104.80 699.06h5.4M1104.80 685.82h5.4M1104.80 674.62h5.4M1104.80 664.91h5.4M1104.80 656.36h5.4M1099.80 648.70h10.4M1110.20 1150.60v11.2M1162.08 1150.60v6.2M1213.97 1150.60v11.2M1265.85 1150.60v6.2M1317.73 1150.60v11.2M1369.62 1150.60v6.2M1421.50 1150.60v11.2M1473.38 1150.60v6.2M1525.27 1150.60v11.2M1577.15 1150.60v6.2M1629.03 1150.60v11.2M1680.92 1150.60v6.2M1732.80 1150.60v11.2" stroke="#000" stroke-width="1.7" fill="none"/>
<text x="1092.4" y="657.2" font-size="33.6" text-anchor="end" fill="#161616" textLength="55.2" lengthAdjust="spacingAndGlyphs">100</text>
<text x="1092.4" y="825.7" font-size="33.6" text-anchor="end" fill="#161616" textLength="36.8" lengthAdjust="spacingAndGlyphs">10</text>
<text x="1092.4" y="992.3" font-size="33.6" text-anchor="end" fill="#161616" textLength="18.4" lengthAdjust="spacingAndGlyphs">1</text>
<text x="1092.4" y="1158.6" font-size="33.6" text-anchor="end" fill="#161616" textLength="46.0" lengthAdjust="spacingAndGlyphs">0.1</text>
<text x="1109.8" y="1192.9" font-size="33.6" text-anchor="middle" fill="#161616" textLength="18.4" lengthAdjust="spacingAndGlyphs">0</text>
<text x="1213.57" y="1192.9" font-size="33.6" text-anchor="middle" fill="#161616" textLength="36.8" lengthAdjust="spacingAndGlyphs">30</text>
<text x="1317.33" y="1192.9" font-size="33.6" text-anchor="middle" fill="#161616" textLength="36.8" lengthAdjust="spacingAndGlyphs">60</text>
<text x="1421.1" y="1192.9" font-size="33.6" text-anchor="middle" fill="#161616" textLength="36.8" lengthAdjust="spacingAndGlyphs">90</text>
<text x="1524.87" y="1192.9" font-size="33.6" text-anchor="middle" fill="#161616" textLength="55.2" lengthAdjust="spacingAndGlyphs">120</text>
<text x="1628.63" y="1192.9" font-size="33.6" text-anchor="middle" fill="#161616" textLength="55.2" lengthAdjust="spacingAndGlyphs">150</text>
<text x="1732.4" y="1192.9" font-size="33.6" text-anchor="middle" fill="#161616" textLength="55.2" lengthAdjust="spacingAndGlyphs">180</text>
<polyline points="1142.2,738.3 1184.9,732.7 1224.2,728.3 1255.0,728.7 1295.8,1076.2 1344.2,1077.7 1393.6,1074.6 1433.5,1078.1 1477.4,1077.0 1546.4,1074.9 1608.4,1070.6 1705.8,1065.6" fill="none" stroke="#c0202a" stroke-width="1.2" stroke-linejoin="round"/>
<polyline points="1144.7,739.2 1184.9,732.6 1219.6,728.4 1246.8,727.4 1278.7,727.8 1317.6,1073.9 1351.8,1074.5 1385.1,1074.3 1477.3,1072.4 1608.4,1069.6 1705.8,1065.0" fill="none" stroke="#1e7040" stroke-width="1.2" stroke-linejoin="round"/>
<circle cx="1142.2" cy="738.3" r="6.1" fill="#f20d12"/>
<circle cx="1184.9" cy="732.7" r="6.1" fill="#f20d12"/>
<circle cx="1224.2" cy="728.3" r="6.1" fill="#f20d12"/>
<circle cx="1255.0" cy="728.7" r="6.1" fill="#f20d12"/>
<circle cx="1295.8" cy="1076.2" r="6.1" fill="#f20d12"/>
<circle cx="1344.2" cy="1077.7" r="6.1" fill="#f20d12"/>
<circle cx="1393.6" cy="1074.6" r="6.1" fill="#f20d12"/>
<circle cx="1433.5" cy="1078.1" r="6.1" fill="#f20d12"/>
<circle cx="1477.4" cy="1077.0" r="6.1" fill="#f20d12"/>
<circle cx="1546.4" cy="1074.9" r="6.1" fill="#f20d12"/>
<circle cx="1608.4" cy="1070.6" r="6.1" fill="#f20d12"/>
<circle cx="1705.8" cy="1065.6" r="6.1" fill="#f20d12"/>
<circle cx="1144.7" cy="739.2" r="6.1" fill="#0c7a1a"/>
<circle cx="1184.9" cy="732.6" r="6.1" fill="#0c7a1a"/>
<circle cx="1219.6" cy="728.4" r="6.1" fill="#0c7a1a"/>
<circle cx="1246.8" cy="727.4" r="6.1" fill="#0c7a1a"/>
<circle cx="1278.7" cy="727.8" r="6.1" fill="#0c7a1a"/>
<circle cx="1317.6" cy="1073.9" r="6.1" fill="#0c7a1a"/>
<circle cx="1351.8" cy="1074.5" r="6.1" fill="#0c7a1a"/>
<circle cx="1385.1" cy="1074.3" r="6.1" fill="#0c7a1a"/>
<circle cx="1477.3" cy="1072.4" r="6.1" fill="#0c7a1a"/>
<circle cx="1608.4" cy="1069.6" r="6.1" fill="#0c7a1a"/>
<circle cx="1705.8" cy="1065.0" r="6.1" fill="#0c7a1a"/>
</svg></body></html>
